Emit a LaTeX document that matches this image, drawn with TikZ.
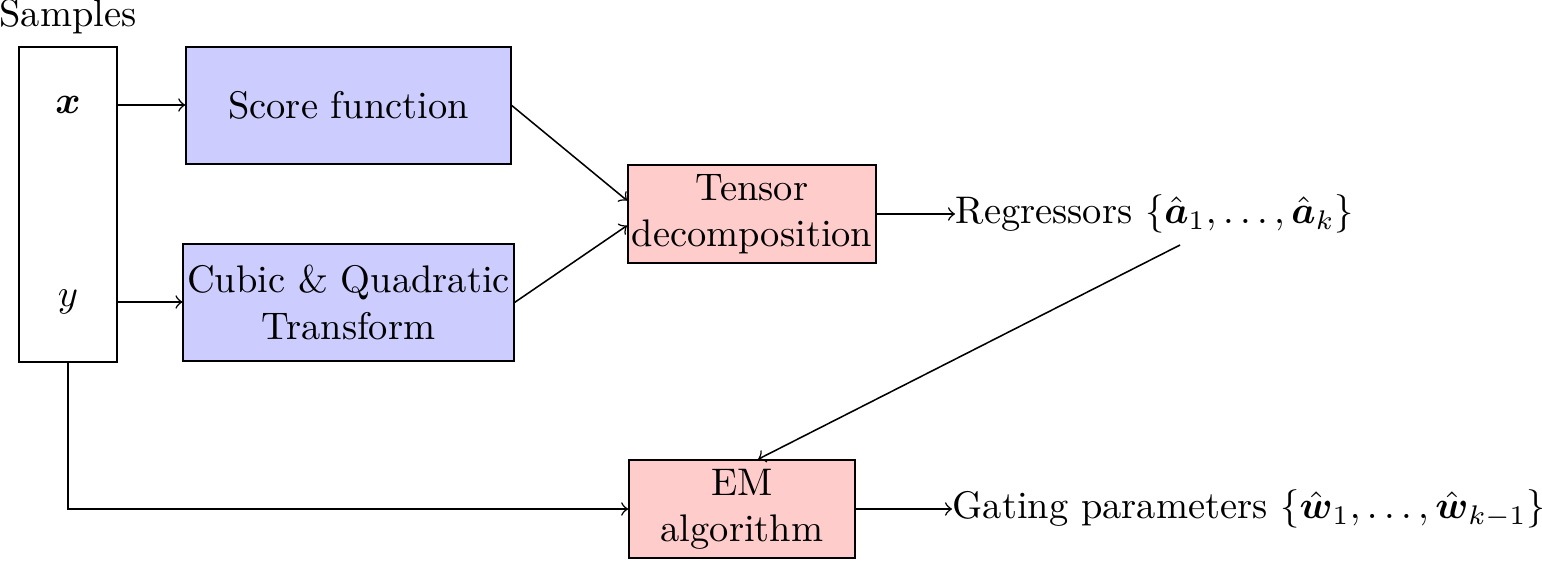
\documentclass[tikz,border=0pt]{standalone}
\usepackage{amsmath}
\usepackage{amssymb}

\begin{document}
\begin{tikzpicture}[x=0.26pt, y=-0.26pt, line width=0.4pt, >=to,
  blubox/.style={draw, fill=blue!20, align=center, inner sep=1pt, minimum width=84.5pt, minimum height=30.4pt},
  redbox/.style={draw, fill=red!20, align=center, inner sep=1pt, minimum height=25.5pt}]
\useasboundingbox (0,0) rectangle (1542,563);
% the samples column
\node (samplestitle) at (68,17) {Samples};
\node[draw, minimum width=25.5pt, minimum height=81.9pt] (samples) at (68,204.5) {};
\node (xin) at (68,105) {$\boldsymbol{x}$};
\node (yin) at (68,302) {$y$};
% preprocessing
\node[blubox] (score) at (348.5,105.5) {Score function};
\node[blubox] (cubic) at (348.5,302.5) {Cubic \& Quadratic\\Transform};
% estimation steps
\node[redbox, minimum width=64pt] (tensor) at (752,214) {Tensor\\decomposition};
\node[redbox, minimum width=58.8pt] (em) at (742,509) {EM\\algorithm};
\node[anchor=west, inner sep=0pt] (regr) at (955,214) {Regressors $\{\hat{\boldsymbol{a}}_1,\dots,\hat{\boldsymbol{a}}_k\}$};
\node[anchor=west, inner sep=0pt] (gating) at (952,509) {Gating parameters $\{\hat{\boldsymbol{w}}_1,\dots,\hat{\boldsymbol{w}}_{k-1}\}$};
\coordinate (regrfoot) at (1180,245);
% connectors
\draw[->] (xin -| samples.east) -- (xin -| score.west);
\draw[->] (yin -| samples.east) -- (yin -| cubic.west);
\draw[->] (score.east) -- ([yshift=3.5pt]tensor.west);
\draw[->] (cubic.east) -- ([yshift=-3pt]tensor.west);
\draw[->] (tensor.east) -- (regr.west);
\draw[->] (regrfoot) -- ([xshift=4.2pt]em.north);
\draw[->] (samples.south) |- (em.west);
\draw[->] (em.east) -- (gating.west);
\end{tikzpicture}
\end{document}
